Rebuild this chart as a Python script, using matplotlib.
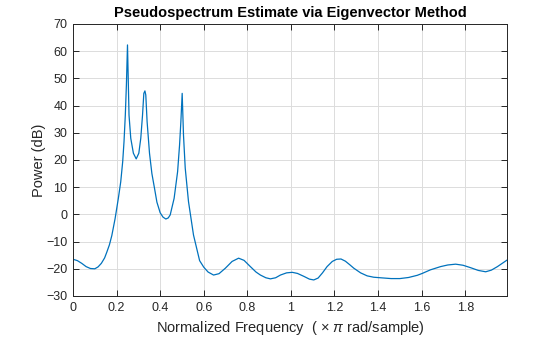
import matplotlib
matplotlib.use("Agg")
import matplotlib.pyplot as plt

plt.rcParams['font.family'] = ['Liberation Sans', 'DejaVu Sans']
plt.rcParams['mathtext.fontset'] = 'custom'
plt.rcParams['mathtext.it'] = 'Liberation Sans:italic'
plt.rcParams['mathtext.rm'] = 'Liberation Sans'

# normalized frequency (x pi rad/sample) and power (dB)
freq = [0.0, 0.02, 0.04, 0.06, 0.08, 0.1, 0.115, 0.13, 0.145, 0.155, 0.167,
        0.178, 0.193, 0.208, 0.219, 0.228, 0.234, 0.24, 0.245, 0.25, 0.253,
        0.257, 0.265, 0.277, 0.29, 0.302, 0.311, 0.319, 0.325, 0.33, 0.334,
        0.34, 0.351, 0.362, 0.374, 0.385, 0.4, 0.413, 0.426, 0.437, 0.446,
        0.464, 0.48, 0.489, 0.495, 0.501, 0.507, 0.515, 0.53, 0.553, 0.581,
        0.6, 0.62, 0.645, 0.67, 0.699, 0.73, 0.76, 0.785, 0.814, 0.84, 0.86,
        0.885, 0.906, 0.93, 0.952, 0.98, 1.006, 1.03, 1.06, 1.085, 1.105,
        1.125, 1.145, 1.166, 1.19, 1.21, 1.23, 1.25, 1.27, 1.289, 1.32, 1.35,
        1.38, 1.411, 1.46, 1.5, 1.54, 1.58, 1.603, 1.64, 1.687, 1.72, 1.756,
        1.79, 1.825, 1.86, 1.894, 1.92, 1.948, 1.97, 1.992]
power = [-16.5, -17.0, -18.0, -19.2, -19.9, -20.0, -19.3, -18.0, -16.0, -13.9,
         -11.2, -7.8, -1.6, 5.9, 12.0, 19.4, 26.7, 36.5, 47.6, 62.3, 51.3,
         36.5, 28.0, 22.5, 20.4, 22.5, 28.0, 36.5, 44.5, 45.4, 43.9, 34.1,
         22.5, 15.0, 9.6, 4.5, 0.6, -1.0, -1.7, -1.3, -0.2, 5.9, 15.7, 25.5,
         34.1, 44.5, 29.2, 17.0, 4.7, -7.6, -17.0, -19.4, -21.2, -22.3, -21.8,
         -19.8, -17.3, -16.1, -16.9, -19.2, -21.2, -22.3, -23.3, -23.7, -23.3,
         -22.3, -21.5, -21.3, -21.7, -22.8, -23.8, -24.1, -23.4, -21.5, -19.2,
         -17.3, -16.5, -16.4, -17.2, -18.5, -19.8, -21.5, -22.6, -23.1, -23.3,
         -23.6, -23.6, -23.2, -22.4, -21.7, -20.4, -19.2, -18.6, -18.3, -18.7,
         -19.6, -20.6, -21.1, -20.5, -19.2, -18.0, -16.8]

fig = plt.figure(figsize=(5.6, 3.37), dpi=100)
ax = fig.add_axes([0.1304, 0.1217, 0.775, 0.8071])

ax.plot(freq, power, color="#0072BD", lw=0.9)

ax.set_xlim(0, 1.992)
ax.set_ylim(-30, 70)
ax.set_xticks([0, 0.2, 0.4, 0.6, 0.8, 1, 1.2, 1.4, 1.6, 1.8])
ax.set_xticklabels(["0", "0.2", "0.4", "0.6", "0.8", "1", "1.2", "1.4", "1.6", "1.8"])
ax.set_yticks(range(-30, 71, 10))

ax.grid(True, color="#dcdcdc", lw=0.7)
ax.set_axisbelow(True)
ax.tick_params(direction="in", top=True, right=True, length=4, width=0.7,
               labelsize=9, colors="#262626", pad=4)
for s in ax.spines.values():
    s.set_color("#262626")
    s.set_linewidth(0.7)

ax.set_title("Pseudospectrum Estimate via Eigenvector Method",
             fontsize=10.5, fontweight="bold", color="black", pad=5)
ax.set_xlabel(r"Normalized Frequency  ( $\times$ $\mathit{\pi}$ rad/sample)",
              fontsize=10.5, color="#262626", labelpad=4)
ax.set_ylabel("Power (dB)", fontsize=10.5, color="#262626", labelpad=0)

fig.savefig("out.png", dpi=100)
